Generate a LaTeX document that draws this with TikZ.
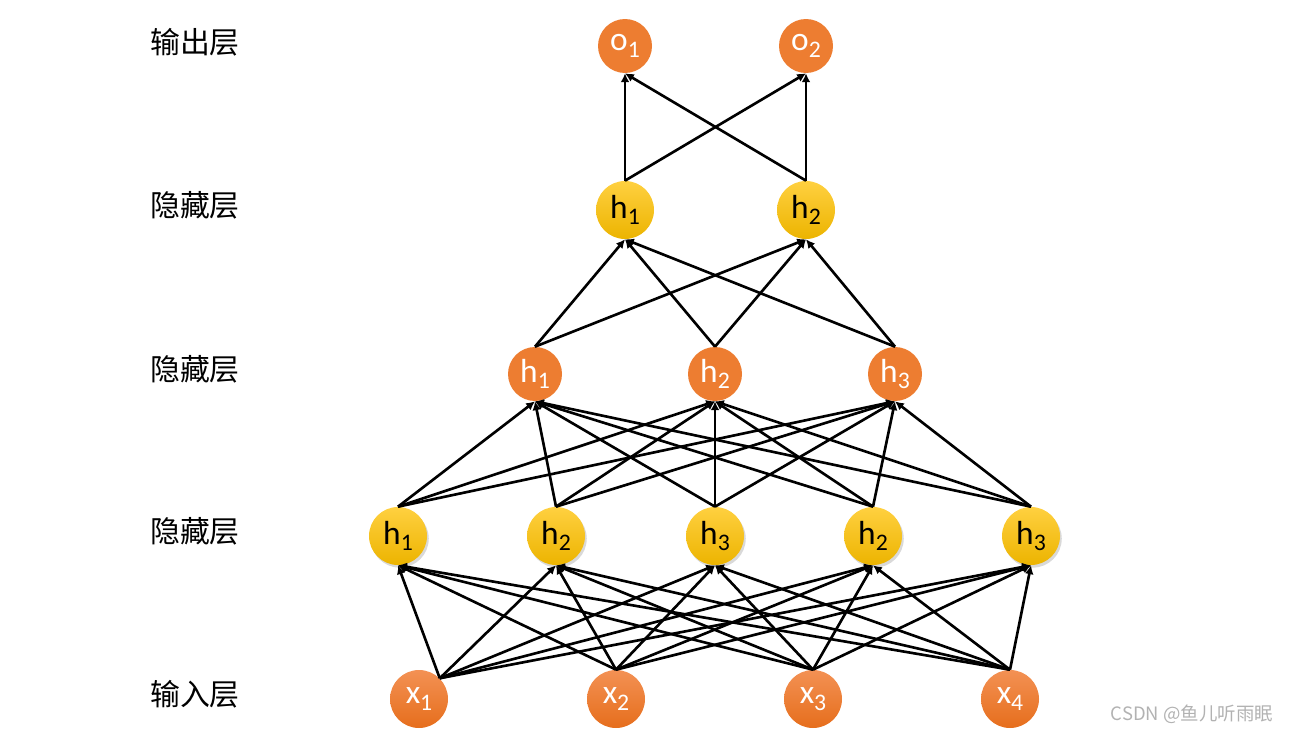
\documentclass[tikz,border=0pt]{standalone}
\usepackage{fontspec}
\setmainfont{Carlito}
\newfontfamily\cjk{Noto Sans CJK SC}
\usepackage{tikz}
\usetikzlibrary{arrows.meta,shadows}

\definecolor{nodeorange}{RGB}{237,125,49}
\definecolor{intop}{RGB}{243,145,84}
\definecolor{inbot}{RGB}{230,110,28}
\definecolor{yeltop}{RGB}{255,208,64}
\definecolor{yelbot}{RGB}{236,180,0}

\newcommand\nlbl[2]{#1\raisebox{-0.4ex}{\fontsize{13.5}{13.5}\selectfont #2}}

\tikzset{
  neuron/.style={circle,inner sep=0pt,font=\fontsize{19}{19}\selectfont},
  outnode/.style={neuron,minimum size=1.08cm,fill=nodeorange,text=white},
  innode/.style={neuron,minimum size=1.16cm,top color=intop,bottom color=inbot,text=white},
  hidnode/.style={neuron,minimum size=1.16cm,top color=yeltop,bottom color=yelbot,text=black},
  edge/.style={line width=1.5pt,-{Latex[length=5pt,width=5pt]}},
  layer/.style={font=\cjk\fontsize{17}{17}\selectfont}
}

\begin{document}
\begin{tikzpicture}[x=0.02cm,y=-0.02cm]
\useasboundingbox (0,0) rectangle (1293,733);

% layer names
\node[layer] (l5) at (195,42) {输出层};
\node[layer] (l4) at (195,205) {隐藏层};
\node[layer] (l3) at (195,369) {隐藏层};
\node[layer] (l2) at (195,531) {隐藏层};
\node[layer] (l1) at (195,694) {输入层};

% neurons
\foreach \i/\px in {1/625,2/806}
  \node[outnode] (o\i) at (\px,46) {\nlbl{o}{\i}};
\foreach \i/\px in {1/625,2/806}
  \node[hidnode] (a\i) at (\px,210) {\nlbl{h}{\i}};
\foreach \i/\px in {1/535,2/715,3/895}
  \node[outnode] (b\i) at (\px,374) {\nlbl{h}{\i}};
\foreach \i/\px/\s in {1/398/1,2/556/2,3/715/3,4/873/2,5/1031/3}
  \node[hidnode,drop shadow={opacity=0.3,shadow xshift=1pt,shadow yshift=-1.5pt}] (c\i) at (\px,536) {\nlbl{h}{\s}};
\foreach \i/\px in {1/419,2/616,3/813,4/1010}
  \node[innode] (x\i) at (\px,699) {\nlbl{x}{\i}};
\foreach \i/\an in {1/45,2/north,3/north,4/north}
  \coordinate (s\i) at (x\i.\an);

% connections
\foreach \i in {1,...,4}
  \foreach \j in {1,...,5}
    \draw[edge] (s\i) -- (c\j.south);
\foreach \i in {1,...,5}
  \foreach \j in {1,...,3}
    \draw[edge] (c\i.north) -- (b\j.south);
\foreach \i in {1,...,3}
  \foreach \j in {1,2}
    \draw[edge] (b\i.north) -- (a\j.south);
\foreach \i in {1,2}
  \foreach \j in {1,2}
    \draw[edge] (a\i.north) -- (o\j.south);

\node[font=\cjk\fontsize{10.5}{10.5}\selectfont,text=gray!60] (mark) at (1192,714) {CSDN @鱼儿听雨眠};
\end{tikzpicture}
\end{document}
